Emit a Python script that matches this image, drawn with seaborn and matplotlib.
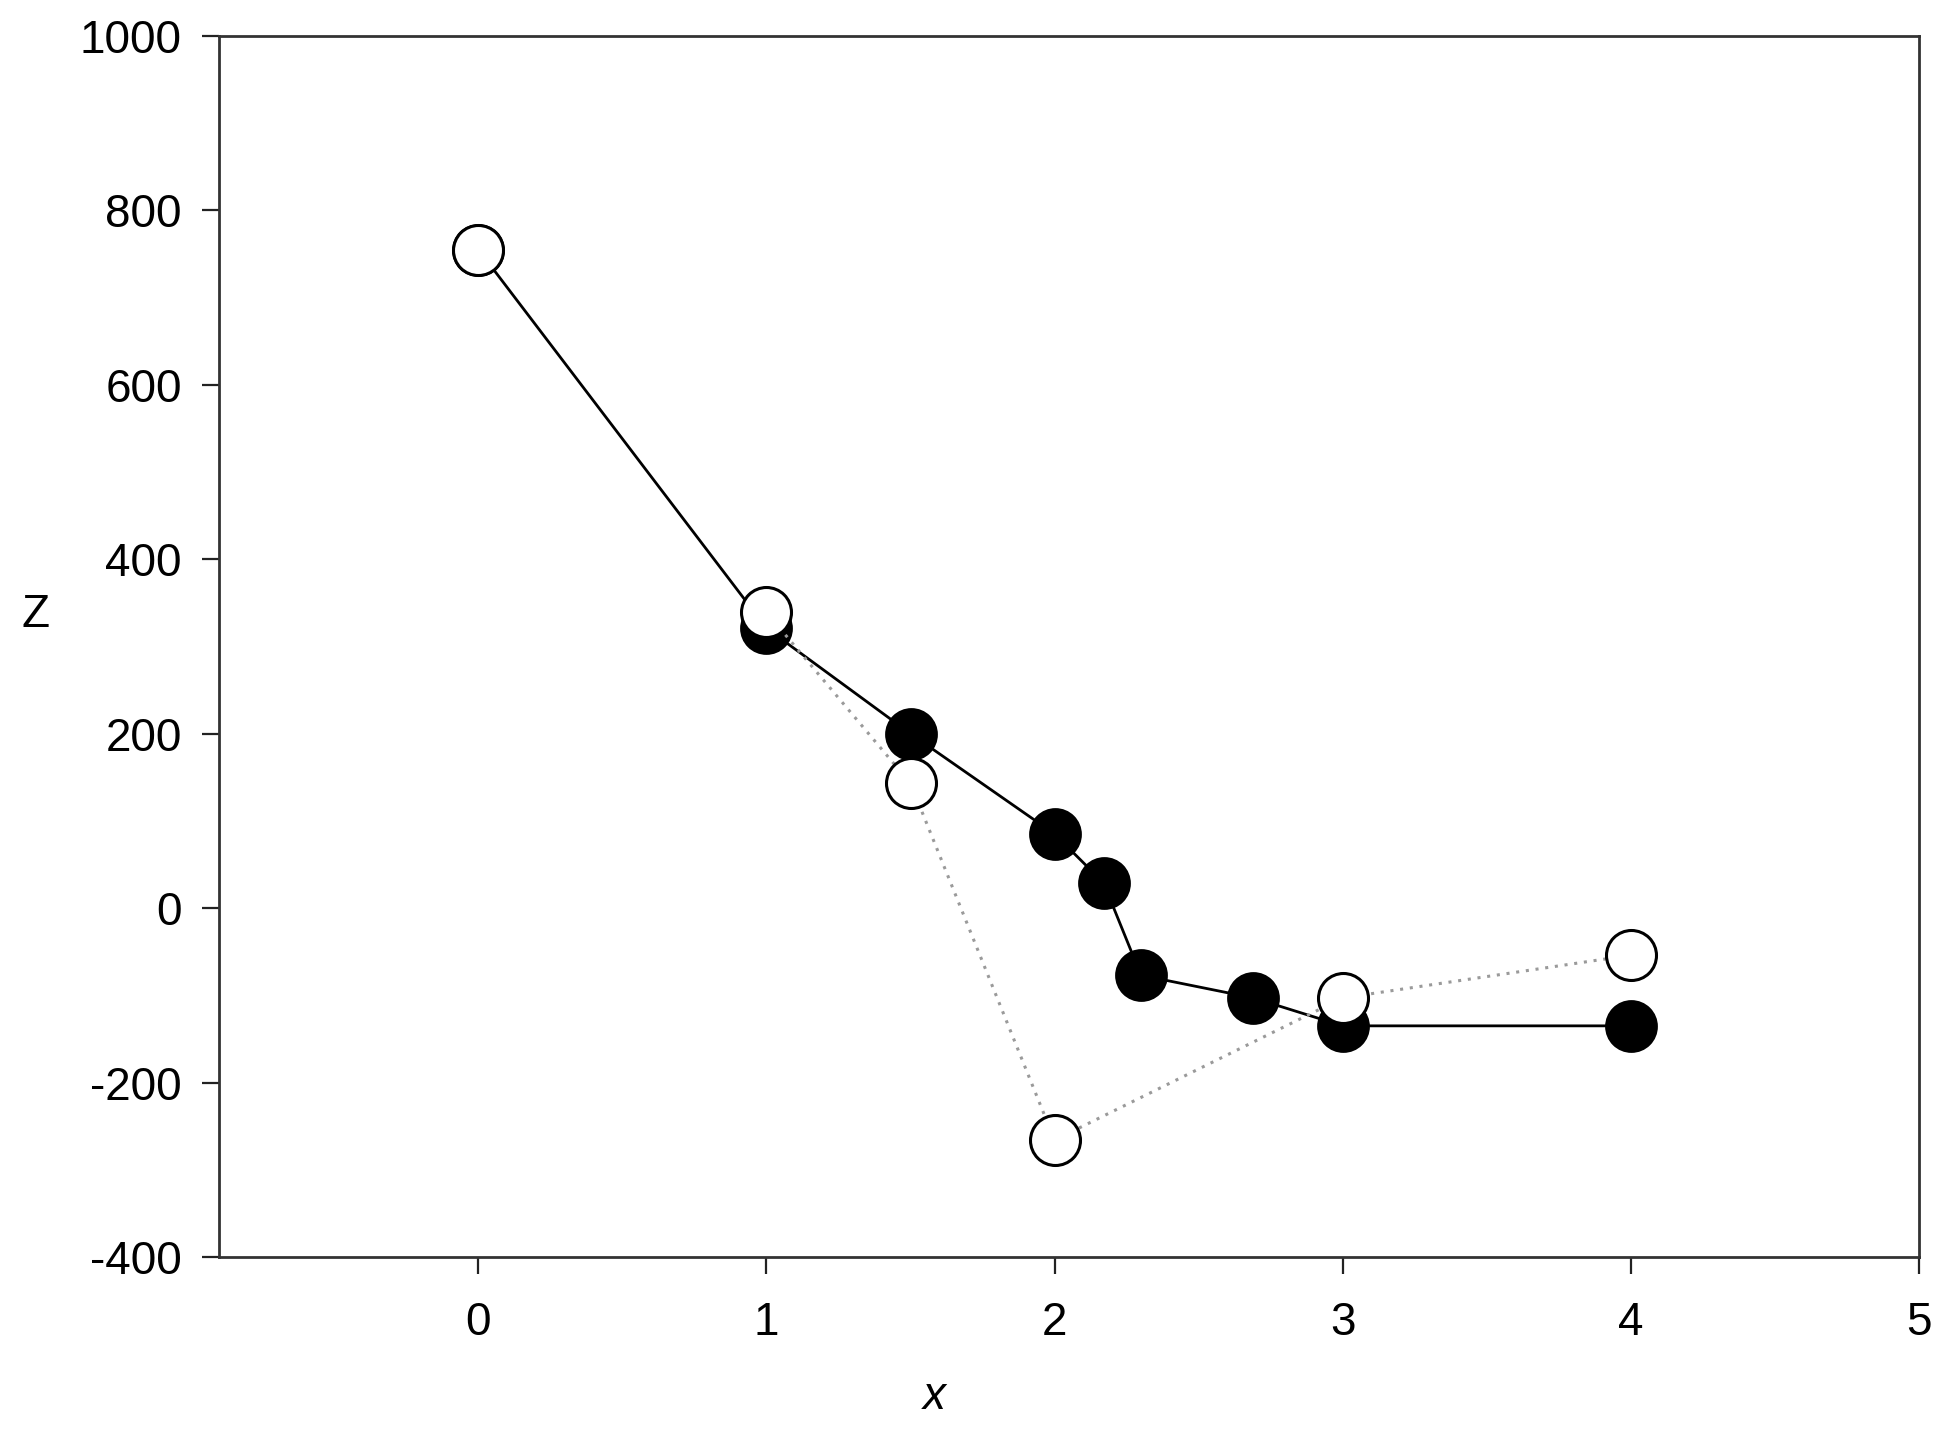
import numpy as np
import pandas as pd
import seaborn as sns
import matplotlib.pyplot as plt

# common starting point (open circle, joined to the solid line)
x_start = [0]
z_start = [755]

# filled series (solid line)
x_filled = [1, 1.5, 2, 2.17, 2.3, 2.69, 3, 4]
z_filled = [321, 200, 85, 29, -77, -103, -135, -135]

# open series (dotted line)
x_open = [1, 1.5, 2, 3, 4]
z_open = [339, 143, -266, -103, -54]

x_ticks = [0, 1, 2, 3, 4, 5]
z_ticks = [-400, -200, 0, 200, 400, 600, 800, 1000]

sns.set_style("white")
plt.rcParams['font.family'] = ['Liberation Sans', 'DejaVu Sans']
plt.rcParams['axes.unicode_minus'] = False

fig = plt.figure(figsize=(19.48, 14.39), dpi=100)
ax = fig.add_axes([0.1125, 0.1265, 0.8725, 0.8485])

df_f = pd.DataFrame({"x": x_start + x_filled, "z": z_start + z_filled})
df_o = pd.DataFrame({"x": x_open, "z": z_open})
df_s = pd.DataFrame({"x": x_start, "z": z_start})

sns.lineplot(data=df_f, x="x", y="z", ax=ax, color="black", linewidth=2,
             marker="o", markersize=36, markerfacecolor="black",
             markeredgecolor="black", markeredgewidth=2, zorder=2)
sns.lineplot(data=df_o, x="x", y="z", ax=ax, color="#9a9a9a", linewidth=2.2,
             linestyle=(0, (1, 2.2)), marker="o", markersize=36,
             markerfacecolor="white", markeredgecolor="black",
             markeredgewidth=2.2, zorder=3)
sns.scatterplot(data=df_s, x="x", y="z", ax=ax, s=36 ** 2, color="white",
                edgecolor="black", linewidth=2.2, zorder=4)

ax.set_xlim(-0.9, 5)
ax.set_ylim(-400, 1000)
ax.set_xticks(x_ticks)
ax.set_yticks(z_ticks)

for s in ax.spines.values():
    s.set_visible(True)
    s.set_color("#333333")
    s.set_linewidth(2)

ax.tick_params(axis="both", which="major", direction="out", length=12,
               width=1.6, color="#222222", labelsize=33, labelcolor="black",
               bottom=True, left=True, top=False, right=False)
ax.tick_params(axis="y", pad=15)
ax.tick_params(axis="x", pad=20)

ax.set_xlabel("x", fontsize=33, style="italic", color="black")
ax.set_ylabel("Z", fontsize=33, rotation=0, color="black")
ax.xaxis.set_label_coords(0.421, -0.115)
ax.yaxis.set_label_coords(-0.108, 0.526)
ax.xaxis.label.set_va("center")
ax.yaxis.label.set_va("center")

fig.savefig("out.png", dpi=100, facecolor="white")
